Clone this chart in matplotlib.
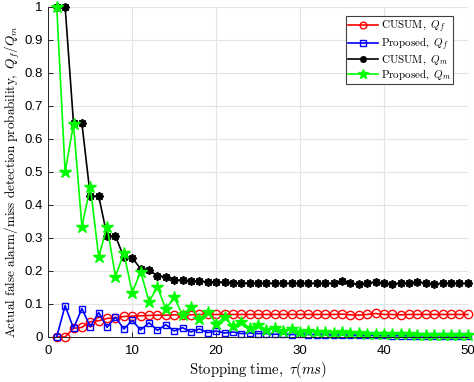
import matplotlib
matplotlib.use("Agg")
import matplotlib.pyplot as plt
import numpy as np

plt.rcParams['mathtext.fontset'] = 'cm'
plt.rcParams['font.family'] = ['Liberation Sans', 'DejaVu Sans']

tau = list(range(1, 51))

cusum_qf = [0.0, 0.0, 0.026, 0.029, 0.046, 0.049, 0.056, 0.058, 0.062, 0.063,
            0.064, 0.065, 0.066, 0.066, 0.067, 0.067, 0.067, 0.068, 0.068, 0.068,
            0.068, 0.068, 0.068, 0.068, 0.068, 0.068, 0.068, 0.068, 0.068, 0.068,
            0.068, 0.068, 0.068, 0.068, 0.069, 0.067, 0.066, 0.068, 0.071, 0.068,
            0.068, 0.067, 0.068, 0.068, 0.068, 0.068, 0.068, 0.068, 0.068, 0.068]

proposed_qf = [0.0, 0.095, 0.026, 0.086, 0.031, 0.074, 0.029, 0.060, 0.024, 0.050,
               0.021, 0.043, 0.020, 0.037, 0.018, 0.028, 0.015, 0.024, 0.013, 0.018,
               0.012, 0.015, 0.010, 0.012, 0.010, 0.010, 0.008, 0.009, 0.007, 0.008,
               0.007, 0.007, 0.006, 0.006, 0.006, 0.005, 0.005, 0.005, 0.005, 0.005,
               0.004, 0.004, 0.004, 0.004, 0.004, 0.004, 0.004, 0.004, 0.004, 0.004]

cusum_qm = [1.0, 1.0, 0.647, 0.647, 0.427, 0.427, 0.306, 0.306, 0.241, 0.240,
            0.206, 0.203, 0.185, 0.183, 0.172, 0.172, 0.168, 0.170, 0.166, 0.167,
            0.165, 0.164, 0.163, 0.163, 0.164, 0.162, 0.163, 0.162, 0.163, 0.162,
            0.163, 0.162, 0.163, 0.162, 0.168, 0.162, 0.160, 0.163, 0.167, 0.162,
            0.161, 0.163, 0.162, 0.167, 0.163, 0.161, 0.162, 0.163, 0.162, 0.162]

proposed_qm = [1.0, 0.50, 0.645, 0.334, 0.455, 0.243, 0.334, 0.183, 0.254, 0.134,
               0.198, 0.107, 0.152, 0.084, 0.120, 0.066, 0.092, 0.053, 0.077, 0.040,
               0.060, 0.032, 0.046, 0.027, 0.037, 0.022, 0.028, 0.019, 0.023, 0.016,
               0.019, 0.014, 0.016, 0.012, 0.014, 0.011, 0.012, 0.010, 0.010, 0.009,
               0.009, 0.008, 0.008, 0.007, 0.007, 0.007, 0.006, 0.006, 0.006, 0.006]

fig = plt.figure(figsize=(4.74, 3.82), dpi=100)
ax = fig.add_axes([0.102, 0.118, 0.885, 0.864])

lw = 1.2
ax.plot(tau, cusum_qf, color='#ff0000', marker='o', markersize=6, markerfacecolor='none',
        markeredgewidth=1.0, linewidth=lw, label=r'$\mathrm{CUSUM},\ Q_f$', clip_on=False)
ax.plot(tau, proposed_qf, color='#0000ff', marker='s', markersize=5, markerfacecolor='none',
        markeredgewidth=1.0, linewidth=lw, label=r'$\mathrm{Proposed},\ Q_f$', clip_on=False)
ax.plot(tau, cusum_qm, color='black', marker=(8, 2, 0), markersize=6,
        markeredgewidth=1.3, linewidth=lw, label=r'$\mathrm{CUSUM},\ Q_m$', clip_on=False)
ax.plot(tau, proposed_qm, color='#00ff00', marker='*', markersize=9,
        markeredgewidth=1.0, linewidth=lw, label=r'$\mathrm{Proposed},\ Q_m$', clip_on=False)

ax.set_xlim(0, 50)
ax.set_ylim(0, 1)
ax.set_xticks([0, 10, 20, 30, 40, 50])
ax.set_yticks(np.arange(0, 1.01, 0.1))
ax.set_yticklabels(['0', '0.1', '0.2', '0.3', '0.4', '0.5', '0.6', '0.7', '0.8', '0.9', '1'])
ax.tick_params(labelsize=9.5, direction='in', length=3.5, width=0.6)
ax.tick_params(axis='x', pad=6)
ax.tick_params(axis='y', pad=4)
ax.grid(True, color='#e3e3e3', linewidth=0.8)
ax.set_axisbelow(True)
for k in ('top', 'right'):
    ax.spines[k].set_visible(False)
for k in ('left', 'bottom'):
    ax.spines[k].set_linewidth(0.7)
    ax.spines[k].set_color('#262626')

ax.set_xlabel(r'$\mathrm{Stopping\ time},\ \tau(ms)$', fontsize=10.5, labelpad=2)
ax.set_ylabel(r'$\mathrm{Actual\ false\ alarm/miss\ detection\ probability},\ Q_f/Q_m$',
              fontsize=9.5)
ax.yaxis.set_label_coords(-0.064, 0.47)

leg = ax.legend(loc='upper right', bbox_to_anchor=(0.9655, 0.972), fontsize=8,
                fancybox=False, framealpha=1, edgecolor='#404040', handlelength=2.7,
                borderpad=0.2, labelspacing=0.05, handletextpad=0.25, borderaxespad=0.0,
                markerscale=0.8)
leg.get_frame().set_linewidth(0.8)

fig.savefig('out.png', dpi=100)
